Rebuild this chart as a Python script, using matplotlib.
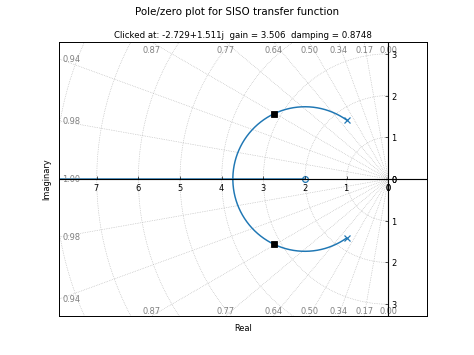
import numpy as np
import matplotlib
matplotlib.use("Agg")
import matplotlib.pyplot as plt
from matplotlib.transforms import Affine2D, Bbox
from matplotlib.projections import PolarAxes
from mpl_toolkits.axisartist import HostAxes, angle_helper
from mpl_toolkits.axisartist.grid_helper_curvelinear import GridHelperCurveLinear

# open loop system G(s) = (s + 2) / (s^2 + 2 s + 3)
num = [1.0, 2.0]
den = [1.0, 2.0, 3.0]

# clicked point and the gain shown in the title
clicked = complex(-2.729, 1.511)
gain_clicked = 3.506
damping_clicked = 0.8748

xlim = (-7.90, 0.92)
ylim = (-3.28, 3.28)

plt.rcParams['axes.linewidth'] = 1.2
plt.rcParams['lines.linewidth'] = 1.8


class LeftHalfFinder(angle_helper.ExtremeFinderCycle):
    # only the left half plane (90..270 deg) gets a polar grid
    def _extents(self, lon, lat):
        lon_min, lon_max = np.nanmin(lon), np.nanmax(lon)
        lat_min, lat_max = np.nanmin(lat), np.nanmax(lat)
        dlon = (lon_max - lon_min) / self.nx
        dlat = (lat_max - lat_min) / self.ny
        lon_min, lon_max = max(90, lon_min - dlon), min(270, lon_max + dlon)
        lat_min, lat_max = max(0, lat_min - dlat), lat_max + dlat
        return lon_min, lon_max, lat_min, lat_max

    def __call__(self, transform_xy, x1, y1, x2, y2):
        x, y = np.meshgrid(np.linspace(x1, x2, self.nx),
                           np.linspace(y1, y2, self.ny))
        lon, lat = transform_xy(np.ravel(x), np.ravel(y))
        return self._extents(np.asarray(lon), np.asarray(lat))

    def _find_transformed_bbox(self, trans, bbox):
        x, y = np.meshgrid(np.linspace(bbox.x0, bbox.x1, self.nx),
                           np.linspace(bbox.y0, bbox.y1, self.ny))
        lon, lat = trans.transform(np.column_stack([x.ravel(), y.ravel()])).T
        a = self._extents(lon, lat)
        return Bbox.from_extents(a[0], a[2], a[1], a[3])


class DampingFormatter:
    def __call__(self, direction, factor, values):
        ang = np.asarray(values) / factor
        return ["%.2f" % abs(np.cos((180 - a) * np.pi / 180)) for a in ang]


try:
    polar = PolarAxes.PolarTransform(apply_theta_transforms=False)
except TypeError:
    polar = PolarAxes.PolarTransform()
tr = Affine2D().scale(np.pi / 180.0, 1.0) + polar

grid_helper = GridHelperCurveLinear(
    tr, extreme_finder=LeftHalfFinder(20, 20, lon_cycle=360, lat_cycle=None,
                                      lon_minmax=(90, 270), lat_minmax=(0, np.inf)),
    grid_locator1=angle_helper.LocatorDMS(15),
    tick_formatter1=DampingFormatter())

fig = plt.figure(figsize=(8, 6), dpi=59.25)
ax = fig.add_subplot(1, 1, 1, axes_class=HostAxes, grid_helper=grid_helper)

ax.axis[:].major_ticklabels.set_visible(True)
ax.axis[:].major_ticks.set_visible(False)
ax.axis[:].invert_ticklabel_direction()
ax.axis[:].major_ticklabels.set_color('gray')

ax.axis["wnxneg"] = axis = ax.new_floating_axis(0, 180)
axis.set_ticklabel_direction("-")
axis.label.set_visible(False)
ax.axis["wnxpos"] = axis = ax.new_floating_axis(0, 0)
axis.label.set_visible(False)
ax.axis["wnypos"] = axis = ax.new_floating_axis(0, 90)
axis.label.set_visible(False)
axis.set_axis_direction("right")
ax.axis["wnyneg"] = axis = ax.new_floating_axis(0, 270)
axis.label.set_visible(False)
axis.set_axis_direction("left")
axis.invert_ticklabel_direction()
axis.set_ticklabel_direction("-")

for side in ["left", "right", "top", "bottom"]:
    ax.axis[side].get_helper().nth_coord_ticks = 0

ax.grid(True, zorder=0, linestyle='dotted')

# root locus branches, roots ordered by real part then imaginary part
gains = np.concatenate([np.linspace(0, 12, 60000), np.linspace(12, 60, 2000),
                        np.logspace(np.log10(60), 4, 500)])
roots = []
for k in gains:
    r = np.roots(np.polyadd(den, k * np.array(num)))
    roots.append(r[np.lexsort((r.imag, np.round(r.real, 6)))])
roots = np.array(roots)
for b in range(roots.shape[1]):
    ax.plot(roots[:, b].real, roots[:, b].imag, color='C0')

poles = np.roots(den)
zeros = np.roots(num)
ax.plot(poles.real, poles.imag, marker='x', linestyle='', color='C0',
        markersize=7, markeredgewidth=1.5)
ax.plot(zeros.real, zeros.imag, marker='o', linestyle='', color='C0',
        markerfacecolor='none', markersize=7, markeredgewidth=1.5)

cl = np.roots(np.polyadd(den, gain_clicked * np.array(num)))
ax.plot(cl.real, cl.imag, 'ks', markersize=8, zorder=20)

ax.axhline(0, color='black', lw=1.4)
ax.axvline(0, color='black', lw=1.4)
ax.set_xlim(*xlim)
ax.set_ylim(*ylim)
ax.set_xlabel('Real', fontsize=10.5)
ax.set_ylabel('Imaginary', fontsize=10.5)
ax.set_title("Clicked at: %.4g%+.4gj  gain = %.4g  damping = %.4g"
             % (clicked.real, clicked.imag, gain_clicked, damping_clicked),
             fontsize=10.5)
fig.suptitle("Pole/zero plot for SISO transfer function", fontsize=12.4)

fig.savefig("out.png", dpi=59.25)
